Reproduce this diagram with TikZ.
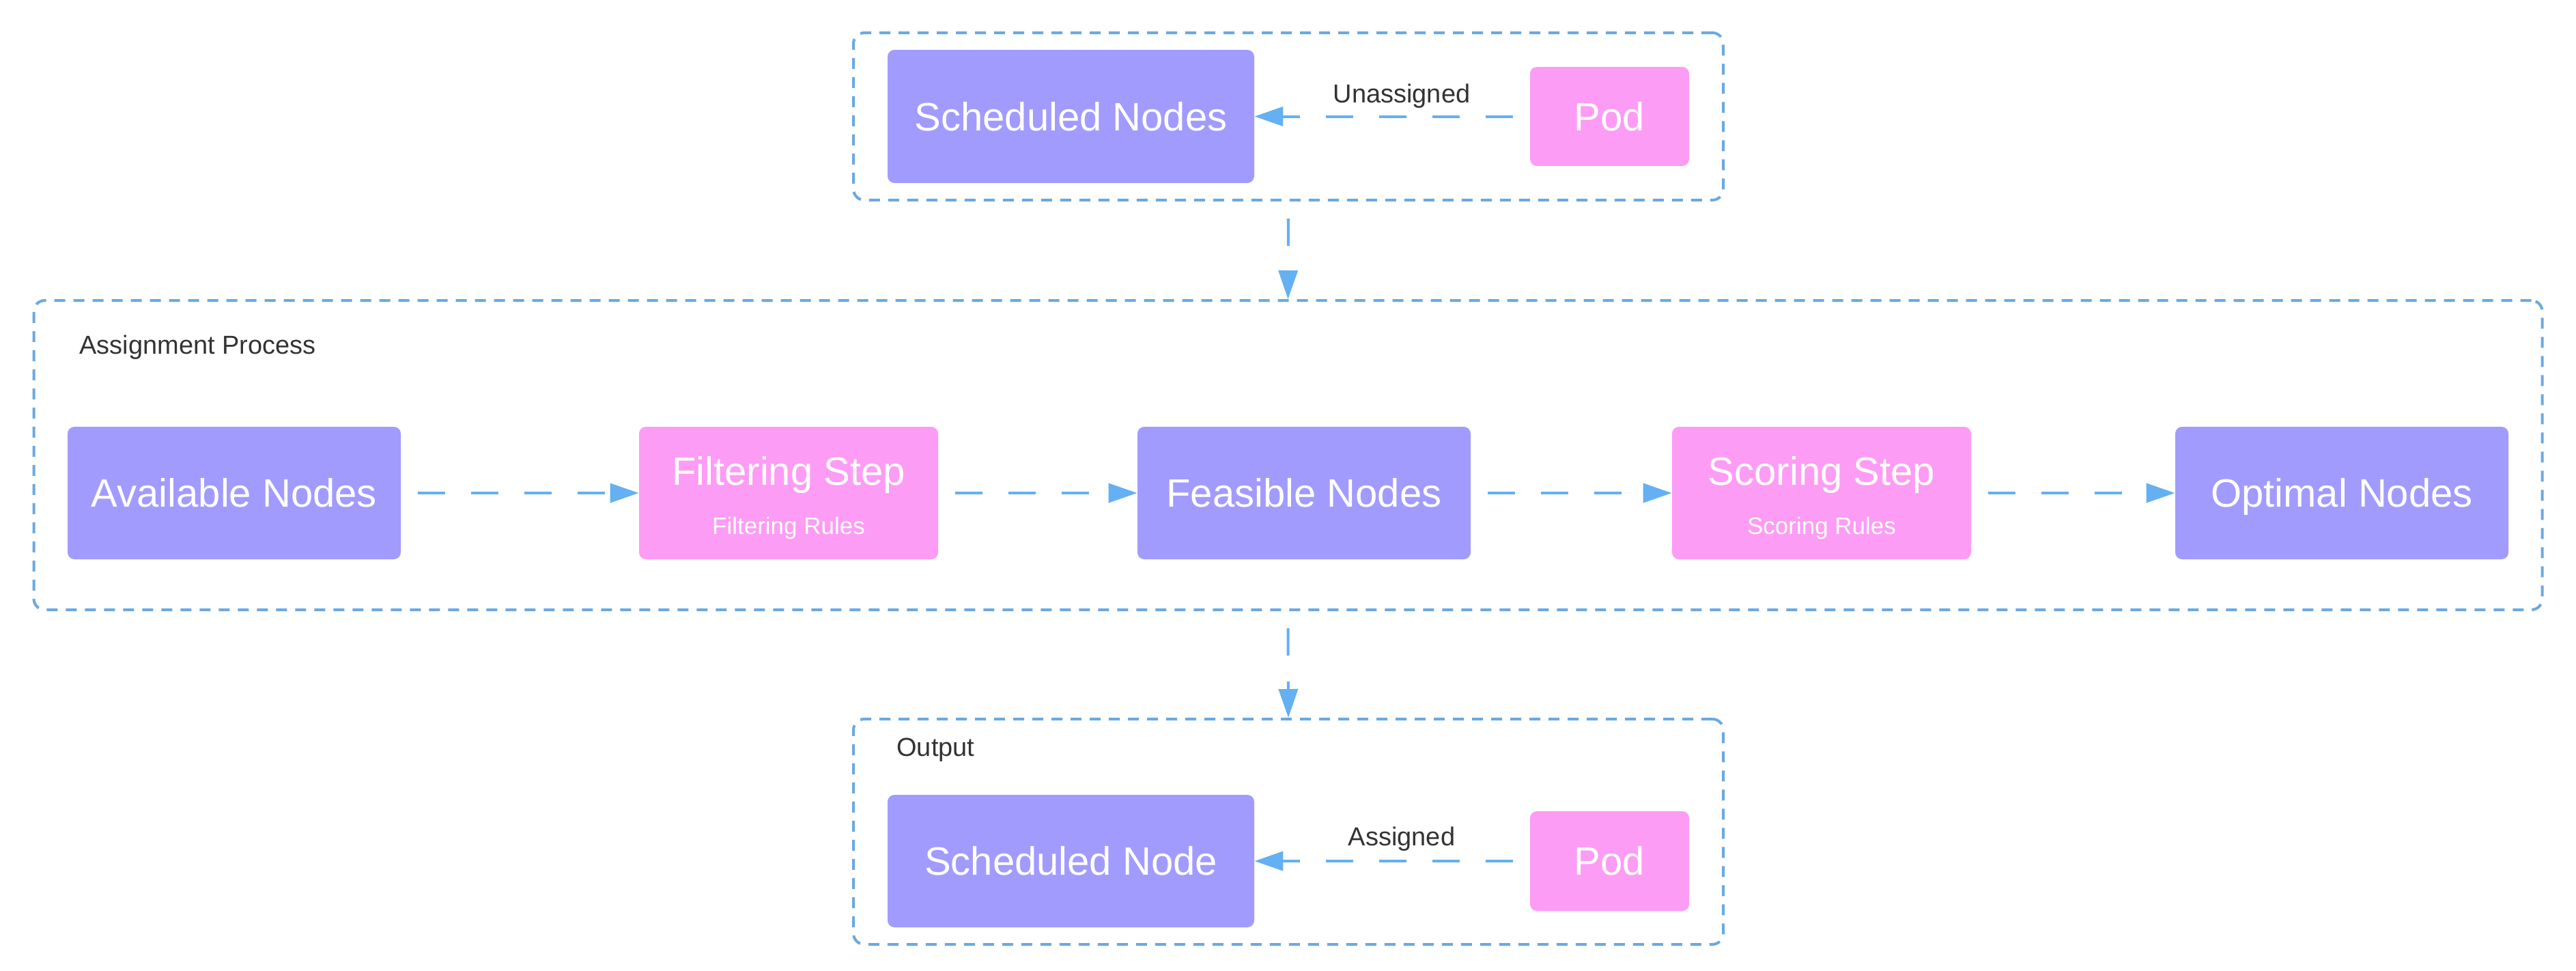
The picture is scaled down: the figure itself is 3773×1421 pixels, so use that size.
\documentclass[tikz,border=0pt]{standalone}
\usepackage{fontspec}
\setmainfont{Liberation Sans}
\usetikzlibrary{arrows.meta}
\definecolor{nodepurple}{HTML}{A29BFE}
\definecolor{nodepink}{HTML}{FD9CF5}
\definecolor{boxblue}{HTML}{6AA9E0}
\definecolor{arrowblue}{HTML}{64B0F2}
\definecolor{labelgray}{HTML}{333333}
\begin{document}
\begin{tikzpicture}[x=0.5pt,y=-0.5pt,
  container/.style={draw=boxblue, line width=2pt, dash pattern=on 8pt off 6pt, rounded corners=8pt, inner sep=0pt},
  boxnode/.style={rounded corners=5pt, inner sep=0pt, text=white, font=\fontsize{29}{34}\selectfont, text height=20.8pt, text depth=0pt},
  purplebox/.style={boxnode, fill=nodepurple},
  pinkbox/.style={boxnode, fill=nodepink},
  flow/.style={draw=arrowblue, line width=2pt, dash pattern=on 20pt off 19pt, -{Triangle[length=21pt,width=14pt]}, shorten <=12.5pt},
  edgelabel/.style={text=labelgray, font=\fontsize{19}{23}\selectfont, inner sep=0pt, anchor=base},
  grouplabel/.style={text=labelgray, font=\fontsize{19}{23}\selectfont, inner sep=0pt, anchor=base west},
  titletext/.style={text=white, font=\fontsize{29}{34}\selectfont, inner sep=0pt, anchor=base},
  subtext/.style={text=white, font=\fontsize{17.5}{21}\selectfont, inner sep=0pt, anchor=base}
]
\fill[white] (0,0) rectangle (3773,1421);
\useasboundingbox (0,0) rectangle (3773,1421);

% containers
\node[container, minimum width=637pt, minimum height=122.5pt] (top) at (1887,170.5) {};
\node[container, minimum width=1837pt, minimum height=226.5pt] (proc) at (1886.5,666.5) {};
\node[container, minimum width=637pt, minimum height=165pt] (out) at (1887,1218) {};

\node[grouplabel] (proclabel) at (116,518) {Assignment Process};
\node[grouplabel] (outlabel) at (1313,1107) {Output};

% top group
\node[purplebox, minimum width=268.5pt, minimum height=97.5pt] (sn1) at (1568.5,170.5) {Scheduled Nodes};
\node[pinkbox, minimum width=116.5pt, minimum height=72.5pt] (pod1) at (2357.5,170.5) {Pod};

% process group
\node[purplebox, minimum width=244pt, minimum height=97pt] (avail) at (343,722) {Available Nodes};
\node[pinkbox, minimum width=219pt, minimum height=97pt] (filt) at (1155,722) {};
\node[titletext] (filtT) at (1155,710) {Filtering Step};
\node[subtext] (filtS) at (1155,782) {Filtering Rules};
\node[purplebox, minimum width=244pt, minimum height=97pt] (feas) at (1910,722) {Feasible Nodes};
\node[pinkbox, minimum width=219pt, minimum height=97pt] (scor) at (2668,722) {};
\node[titletext] (scorT) at (2668,710) {Scoring Step};
\node[subtext] (scorS) at (2668,782) {Scoring Rules};
\node[purplebox, minimum width=244pt, minimum height=97pt] (opt) at (3430,722) {Optimal Nodes};

% output group
\node[purplebox, minimum width=268.5pt, minimum height=97pt] (sn2) at (1568.5,1261) {Scheduled Node};
\node[pinkbox, minimum width=116.5pt, minimum height=73pt] (pod2) at (2357.5,1261) {Pod};

% connectors
\draw[flow] (pod1.west) -- (sn1.east);
\node[edgelabel] (lab1) at (2053,150) {Unassigned};
\draw[flow] (top.south) -- (proc.north);
\draw[flow] (avail.east) -- (filt.west);
\draw[flow] (filt.east) -- (feas.west);
\draw[flow] (feas.east) -- (scor.west);
\draw[flow] (scor.east) -- (opt.west);
\draw[flow] (proc.south) -- (out.north);
\draw[flow] (pod2.west) -- (sn2.east);
\node[edgelabel] (lab2) at (2053,1238) {Assigned};
\end{tikzpicture}
\end{document}
